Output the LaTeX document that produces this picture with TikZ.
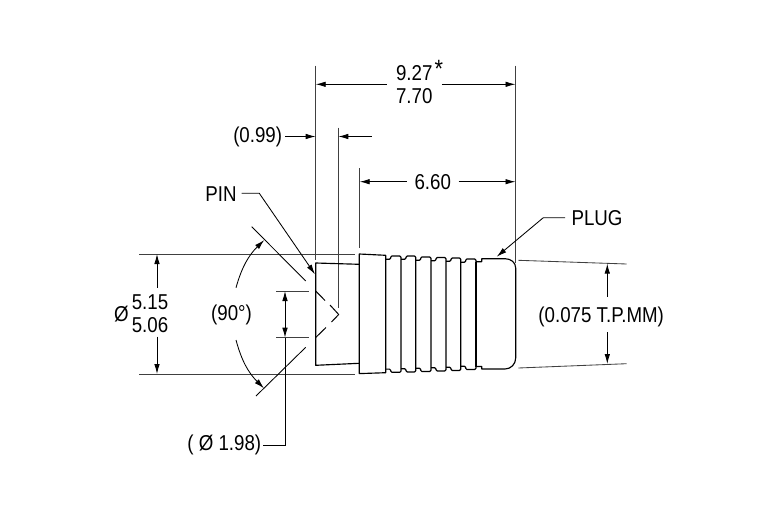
\documentclass[tikz,border=0pt]{standalone}
\usepackage{fontspec}
\setmainfont[FakeStretch=0.87]{Liberation Sans}
\usetikzlibrary{arrows.meta}
\usetikzlibrary{calc}

\begin{document}
\begin{tikzpicture}[x=1pt,y=-1pt]
        \tikzset{>={Latex[length=10pt,width=5.5pt]}}
        \tikzstyle{every node}=[text=black,inner sep=0pt,font=\fontsize{21.5}{23}\selectfont]
        \tikzstyle{dimline}=[line width=0.85pt,draw=black]
        \tikzstyle{extline}=[line width=0.85pt,draw=black!75]
        \tikzstyle{outline}=[line width=1.15pt,draw=black,line join=round]
        \useasboundingbox (0,0) rectangle (780,520);

        % texts
        \node [align=center, minimum width=55pt] (n0) at (414.2,84.3) {9.27\\7.70};
        \node [font=\fontsize{25}{25}\selectfont] (n10) at (438.8,69) {*};
        \node (n1) at (257.7,136.5) {(0.99)};
        \node [minimum width=51.3pt] (n2) at (432.7,181.7) {6.60};
        \node (n3) at (221,194.5) {PIN};
        \node (n4) at (597,218.5) {PLUG};
        \node (n5) at (121.5,314) {Ø};
        \node [align=center] (n6) at (150,313.5) {5.15\\5.06};
        \node (n7) at (231.5,315) {(90°)};
        \node (n8) at (601.2,316.5) {(0.075 T.P.MM)};
        \node (n9) at (224.3,445) {( Ø 1.98)};

        % extension lines
        \coordinate (c0) at (315.7,65.5);
        \coordinate (c1) at (315.7,260);
        \coordinate (c2) at (515.5,65.5);
        \coordinate (c3) at (515.5,263);
        \coordinate (c4) at (338.3,127.7);
        \coordinate (c5) at (338.3,308);
        \coordinate (c6) at (359.7,168.3);
        \coordinate (c7) at (359.7,248.3);
        \coordinate (c8) at (139,254);
        \coordinate (c9) at (355,254);
        \coordinate (c10) at (139,374);
        \coordinate (c11) at (355,374);
        \coordinate (c12) at (276,291);
        \coordinate (c13) at (309,291);
        \coordinate (c14) at (276,337.7);
        \coordinate (c15) at (309,337.7);
        \coordinate (c16) at (251.7,226.7);
        \coordinate (c17) at (305.7,281);
        \coordinate (c18) at (305.7,347.3);
        \coordinate (c19) at (256,396);
        \coordinate (c20) at (518.3,260.3);
        \coordinate (c21) at (626.7,264);
        \coordinate (c22) at (518.3,368);
        \coordinate (c23) at (626.7,363.7);
        \draw [extline] (c0) to (c1);
        \draw [extline] (c2) to (c3);
        \draw [extline] (c4) to (c5);
        \draw [extline] (c6) to (c7);
        \draw [extline] (c8) to (c9);
        \draw [extline] (c10) to (c11);
        \draw [extline] (c12) to (c13);
        \draw [extline] (c14) to (c15);
        \draw [dimline] (c16) to (c17);
        \draw [dimline] (c18) to (c19);
        \draw [extline] (c20) to (c21);
        \draw [extline] (c22) to (c23);

        % pin
        \draw [outline] (359.3,264.3) -- (315.7,263) -- (315.7,365.3) -- (359.3,363.3);
        \draw [outline, line width=1pt] (315.7,291) -- (325,300.5);
        \draw [outline, line width=1pt] (330,305) -- (338.7,314.5) -- (331.5,322);
        \draw [outline, line width=1pt] (326,327.5) -- (315.7,337.5);

        % plug
        \draw [outline] (359.3,254) -- (385.7,255.3) -- (385.7,372.7) -- (359.3,373.6) -- cycle;
        \foreach \xa/\xb/\ya/\yb in {385.7/401/256/372.3, 401/415.7/256/372, 415.7/431/257/371.5,
                431/446/257.5/371, 446/460.7/258/370.5, 460.7/476/259/369.5} {
            \draw [outline, rounded corners=1.2pt] (\xa,\ya+3.2) -- (\xa+5,\ya+3.2) -- (\xa+5,\ya) -- (\xb,\ya)
                -- (\xb,\yb) -- (\xa+5,\yb) -- (\xa+5,\yb-3.2) -- (\xa,\yb-3.2);
        }
        \draw [outline] (476,261.7) -- (476,366.5);
        \draw [outline] (476,261.7) -- (481.7,261.7) -- (481.7,258.7) -- (505,258.7)
            .. controls (511,258.7) and (515.7,262.5) .. (515.7,268) -- (515.7,358)
            .. controls (515.7,364) and (511,369) .. (505,369) -- (481.7,369) -- (481.7,366.5) -- (476,366.5);

        % dimensions
        \draw [dimline,->] (n0.west) to ($(c0)!(n0.west)!(c1)$);
        \draw [dimline,->] (n0.east) to ($(c2)!(n0.east)!(c3)$);
        \coordinate (c24) at (285,136.5);
        \draw [dimline,->] (c24) to ($(c0)!(c24)!(c1)$);
        \coordinate (c25) at (371.7,136.5);
        \draw [dimline,->] (c25) to ($(c4)!(c25)!(c5)$);
        \draw [dimline,->] (n2.west) to ($(c6)!(n2.west)!(c7)$);
        \draw [dimline,->] (n2.east) to ($(c2)!(n2.east)!(c3)$);

        \coordinate (c26) at (157,287.7);
        \coordinate (c27) at (157,254);
        \coordinate (c28) at (157,336.7);
        \coordinate (c29) at (157,374);
        \draw [dimline,->] (c26) to (c27);
        \draw [dimline,->] (c28) to (c29);

        \coordinate (c30) at (285,315);
        \coordinate (c31) at (285,291);
        \coordinate (c32) at (285,337.7);
        \coordinate (c33) at (285,445.7);
        \coordinate (c34) at (263.3,445.7);
        \draw [dimline,->] (c30) to (c31);
        \draw [dimline,->] (c30) to (c32);
        \draw [dimline] (c32) to (c33) to (c34);

        \coordinate (c35) at (607.3,296.7);
        \coordinate (c36) at (607.3,263.6);
        \coordinate (c37) at (607.3,332.3);
        \coordinate (c38) at (607.3,364);
        \draw [dimline,->] (c35) to (c36);
        \draw [dimline,->] (c37) to (c38);

        % 90 degree arcs
        \coordinate (c39) at (236,287.7);
        \coordinate (c40) at (264.3,240);
        \coordinate (c41) at (236,340);
        \coordinate (c42) at (264,388.3);
        \draw [dimline,->] (c39) to [bend left=15] (c40);
        \draw [dimline,->] (c41) to [bend right=15] (c42);

        % leaders
        \coordinate (c43) at (241.7,193.3);
        \coordinate (c44) at (259.3,193.3);
        \coordinate (c45) at (315,274.3);
        \draw [dimline,->] (c43) to (c44) to (c45);
        \coordinate (c46) at (565,217.7);
        \coordinate (c47) at (543.3,217.7);
        \coordinate (c48) at (496.7,256.7);
        \draw [dimline,->] (c46) to (c47) to (c48);
\end{tikzpicture}
\end{document}
